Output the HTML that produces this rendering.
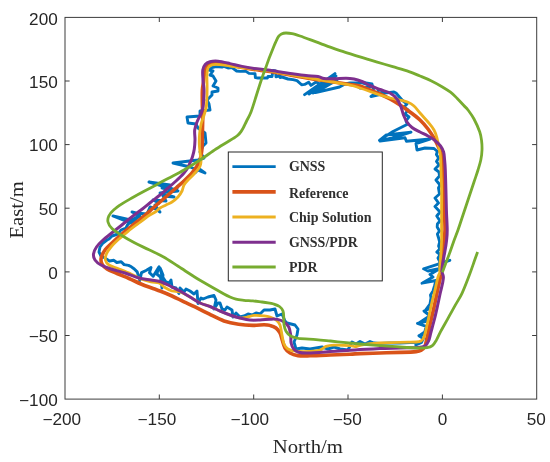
<!DOCTYPE html>
<html lang="en">
<head>
<meta charset="utf-8">
<title>Trajectory comparison</title>
<style>
html,body{margin:0;padding:0;background:#fff;}
body{width:550px;height:462px;overflow:hidden;}
svg{display:block;}
</style>
</head>
<body>
<svg width="550" height="462" viewBox="0 0 550 462">
<rect width="550" height="462" fill="#fff"/>
<g fill="none" stroke-linejoin="round" stroke-linecap="butt">
<path d="M441.0 271.0L439.5 266.0L440.0 262.0L438.0 258.0L440.2 254.5L436.8 252.0L439.8 249.0L438.6 246.0L439.6 242.0L438.6 238.0L437.4 234.0L439.5 231.0L437.2 227.0L437.4 224.0L440.0 221.0L436.8 216.0L440.0 212.0L435.0 206.5L438.5 203.0L435.0 198.0L439.5 194.0L438.5 188.0L440.0 185.0L436.0 180.0L439.5 176.0L439.0 172.0L435.0 169.0L439.0 165.0L436.5 161.5L438.6 158.0L436.4 154.5L437.4 151.5L434.0 148.5L425.0 148.0L417.0 150.0L416.0 143.5L430.0 139.0L406.4 141.3L405.0 137.8L380.0 141.0L392.0 138.0L411.0 132.2L386.0 135.0L379.5 140.3L393.0 131.5L407.5 124.3L406.0 121.0L409.0 117.0L405.0 114.0L408.0 110.0L404.0 107.0L407.0 104.0L402.0 100.0L396.0 93.0L394.0 92.0L390.0 92.5L384.0 93.0L380.0 89.5L376.0 93.0L371.0 96.5L382.0 94.0L374.0 92.0L372.0 84.0L366.0 83.0L360.0 82.0L372.0 86.0L364.0 88.0L360.0 88.0L354.0 84.0L360.0 83.0L350.0 83.0L345.0 84.0L339.5 87.0L315.5 92.6L337.0 80.0L313.0 93.0L336.0 76.0L309.0 94.0L335.0 73.6L304.6 94.6L320.0 84.0L316.0 82.0L311.0 85.4L308.6 82.2L304.6 84.4L301.6 84.8L297.0 80.6L293.0 79.6L288.0 79.0L282.0 77.0L280.0 77.5L280.0 75.5L276.0 76.8L275.6 71.0L273.0 70.5L272.0 76.5L268.0 76.5L267.4 78.0L258.0 78.0L255.4 77.6L255.0 73.6L249.0 73.4L246.0 71.4L240.0 71.4L236.6 71.0L232.0 67.6L228.0 68.0L224.0 66.4L222.0 67.0L216.0 66.6L212.0 67.5L209.0 70.0L213.0 71.0L210.0 75.0L213.0 76.0L216.0 81.0L213.0 86.0L218.0 88.0L218.0 91.0L212.0 92.0L212.0 95.0L207.0 100.0L209.0 104.0L210.0 110.0L200.0 111.0L200.0 116.0L187.0 117.0L188.0 123.0L196.0 124.0L198.0 128.0L205.0 133.0L206.0 143.0L203.0 146.0L200.0 152.0L204.0 158.0L198.0 160.0L173.0 163.0L190.0 167.0L205.0 173.0L198.0 168.0L196.0 172.0L190.0 176.0L178.0 186.0L176.0 190.0L149.0 182.0L170.0 185.0L162.0 188.0L178.0 191.0L160.0 193.0L174.0 197.0L163.0 196.0L166.0 201.0L153.0 200.0L159.0 203.0L155.0 205.0L160.0 212.0L156.0 209.0L150.0 207.0L147.0 214.0L136.0 213.0L132.0 212.0L140.0 216.0L134.0 220.0L137.0 217.0L128.0 222.0L113.0 216.0L135.0 221.0L128.0 224.0L126.0 228.0L121.0 230.0L118.0 234.0L112.0 236.0L109.0 239.0L107.0 240.0L103.0 243.0L100.0 247.0L99.0 252.0L101.0 256.0L105.0 258.0L106.0 258.8L109.5 261.0L113.9 260.3L116.8 262.5L121.2 261.7L124.1 264.6L128.5 265.4L131.4 266.8L134.3 269.0L137.2 271.9L139.8 280.5L141.5 272.6L146.0 270.5L151.0 267.5L149.5 272.6L153.2 276.3L159.0 266.8L156.8 274.0L160.5 277.0L162.0 288.0L163.0 275.0L161.0 270.0L160.0 268.0L162.0 276.0L166.0 282.0L169.0 283.0L171.0 280.0L172.0 287.0L176.0 288.0L179.0 293.5L180.0 288.0L184.0 292.0L186.0 289.0L190.0 291.0L194.0 294.0L197.0 291.0L198.0 303.5L201.0 298.0L203.0 299.0L208.0 297.0L214.0 295.5L216.0 300.0L214.0 309.0L218.0 303.0L220.0 303.0L222.0 309.0L225.0 310.0L227.0 307.0L232.0 310.0L233.0 317.0L236.0 313.0L240.0 317.0L244.0 316.0L248.0 314.0L252.0 315.0L256.0 313.0L260.0 314.0L264.0 310.0L270.0 310.0L275.0 309.0L277.0 316.0L282.0 314.0L285.0 321.0L287.0 323.0L295.0 325.0L298.0 329.0L297.0 335.0L294.0 342.0L296.0 349.0L302.0 348.0L310.0 349.0L316.0 348.0L322.0 347.0L328.0 349.0L334.0 347.0L340.0 349.0L348.0 350.0L352.0 342.0L356.0 344.0L360.0 341.5L365.0 344.0L370.0 341.5L374.0 343.0L380.0 343.4L390.0 343.0L400.0 343.0L410.0 342.6L418.0 342.6L415.8 345.0L421.5 342.4L423.3 338.6L418.9 335.7L424.4 334.0L420.0 335.2L424.7 332.0L426.2 326.3L417.5 323.4L427.4 321.0L419.0 323.0L428.4 316.8L429.0 315.0L424.0 311.0L429.6 308.6L425.4 310.4L430.0 304.0L431.0 298.0L430.5 295.0L433.0 291.0L434.5 286.0L436.0 280.5L422.0 283.2L433.0 277.0L430.0 274.5L440.0 268.5L428.0 271.0L423.6 268.8L449.8 260.3L439.0 263.5L441.0 271.0" stroke="#0072BD" stroke-width="2.9" stroke-linejoin="round"/>
<path d="M441.5 273.0C441.6 269.5 442.0 257.5 442.4 252.0C442.8 246.5 443.6 243.7 444.0 240.0C444.4 236.3 444.9 235.0 445.0 230.0C445.1 225.0 444.6 216.7 444.4 210.0C444.2 203.3 444.1 196.7 444.0 190.0C443.9 183.3 443.9 175.0 443.6 170.0C443.3 165.0 442.8 162.8 442.4 160.0C442.0 157.2 441.7 155.3 441.0 153.0C440.3 150.7 439.2 148.5 438.0 146.0C436.8 143.5 435.7 140.8 434.0 138.0C432.3 135.2 430.3 132.0 428.0 129.0C425.7 126.0 423.0 122.8 420.0 120.0C417.0 117.2 413.3 114.5 410.0 112.0C406.7 109.5 403.3 107.2 400.0 105.0C396.7 102.8 393.3 100.8 390.0 99.0C386.7 97.2 383.3 95.5 380.0 94.0C376.7 92.5 373.3 91.3 370.0 90.0C366.7 88.7 363.3 86.9 360.0 86.0C356.7 85.1 355.0 85.2 350.0 84.5C345.0 83.8 336.7 82.5 330.0 81.5C323.3 80.5 316.7 79.6 310.0 78.5C303.3 77.4 296.7 76.2 290.0 75.0C283.3 73.8 276.0 72.4 270.0 71.5C264.0 70.6 258.7 70.2 254.0 69.5C249.3 68.8 246.0 68.2 242.0 67.5C238.0 66.8 234.0 65.8 230.0 65.0C226.0 64.2 221.2 63.2 218.0 63.0C214.8 62.8 212.9 63.1 211.0 63.8C209.1 64.5 207.6 65.5 206.5 67.0C205.4 68.5 205.0 70.5 204.5 73.0C204.0 75.5 203.8 79.2 203.5 82.0C203.2 84.8 202.6 86.0 202.4 90.0C202.2 94.0 202.3 101.8 202.4 106.0C202.5 110.2 202.8 111.8 202.8 115.0C202.8 118.2 202.7 121.8 202.6 125.0C202.5 128.2 202.5 130.8 202.4 134.0C202.3 137.2 202.3 141.0 202.2 144.0C202.1 147.0 202.0 149.3 201.6 152.0C201.2 154.7 200.7 157.8 200.0 160.0C199.3 162.2 198.7 163.2 197.4 165.4C196.1 167.6 194.2 170.4 192.0 173.0C189.8 175.6 186.7 178.5 184.0 181.0C181.3 183.5 178.7 185.7 176.0 188.0C173.3 190.3 170.7 192.7 168.0 195.0C165.3 197.3 162.7 199.7 160.0 202.0C157.3 204.3 154.8 206.5 152.0 209.0C149.2 211.5 146.2 214.3 143.0 217.0C139.8 219.7 136.3 222.3 133.0 225.0C129.7 227.7 126.3 230.2 123.0 233.0C119.7 235.8 116.0 239.2 113.0 242.0C110.0 244.8 107.0 247.3 105.0 250.0C103.0 252.7 101.7 255.7 101.2 258.0C100.7 260.3 101.0 262.2 102.0 264.0C103.0 265.8 104.5 267.4 107.0 269.0C109.5 270.6 113.3 271.9 117.0 273.5C120.7 275.1 125.0 276.8 129.0 278.5C133.0 280.2 137.0 282.3 141.0 284.0C145.0 285.7 149.8 287.3 153.0 288.5C156.2 289.7 156.8 289.8 160.0 291.0C163.2 292.2 168.0 294.2 172.0 296.0C176.0 297.8 180.2 300.0 184.0 301.8C187.8 303.6 190.8 304.8 195.0 306.9C199.2 309.0 204.7 311.8 209.5 314.2C214.3 316.6 219.2 319.3 224.0 321.0C228.8 322.7 233.8 323.6 238.6 324.3C243.4 325.0 248.8 325.3 253.0 325.4C257.2 325.5 261.2 324.7 264.0 324.7C266.8 324.7 268.0 324.8 270.0 325.4C272.0 325.9 274.3 326.7 276.0 328.0C277.7 329.3 279.0 331.0 280.0 333.0C281.0 335.0 281.4 337.5 282.2 340.0C283.0 342.5 283.7 345.8 285.0 348.0C286.3 350.2 287.8 351.7 290.0 353.0C292.2 354.3 294.7 355.1 298.0 355.6C301.3 356.1 304.7 355.9 310.0 355.8C315.3 355.7 323.3 355.3 330.0 355.0C336.7 354.7 345.0 354.4 350.0 354.2C355.0 354.0 355.0 353.8 360.0 353.6C365.0 353.4 373.3 353.2 380.0 353.0C386.7 352.8 394.0 352.6 400.0 352.4C406.0 352.2 412.4 352.0 416.0 351.6C419.6 351.2 420.0 350.9 421.5 350.0C423.0 349.1 424.1 348.0 425.0 346.0C425.9 344.0 426.2 341.3 427.0 338.0C427.8 334.7 428.5 330.7 429.6 326.0C430.7 321.3 432.1 315.7 433.4 310.0C434.7 304.3 436.1 297.2 437.2 292.0C438.3 286.8 439.3 282.2 440.0 279.0C440.7 275.8 441.2 274.0 441.5 273.0" stroke="#D95319" stroke-width="3.6"/>
<path d="M439.8 273.0C439.8 271.8 439.6 269.5 439.8 266.0C440.0 262.5 440.7 256.3 441.0 252.0C441.3 247.7 441.5 243.7 441.6 240.0C441.7 236.3 441.6 235.0 441.6 230.0C441.6 225.0 441.6 216.7 441.6 210.0C441.6 203.3 441.7 196.7 441.6 190.0C441.5 183.3 441.2 175.7 441.0 170.0C440.8 164.3 440.7 159.7 440.4 156.0C440.1 152.3 439.6 151.0 439.0 148.0C438.4 145.0 437.8 141.0 437.0 138.0C436.2 135.0 435.5 132.7 434.0 130.0C432.5 127.3 430.3 124.8 428.0 122.0C425.7 119.2 422.3 115.7 420.0 113.0C417.7 110.3 416.0 107.8 414.0 106.0C412.0 104.2 410.3 103.2 408.0 102.2C405.7 101.2 403.0 100.7 400.0 100.0C397.0 99.3 393.3 98.8 390.0 98.0C386.7 97.2 383.3 96.1 380.0 95.0C376.7 93.9 373.3 92.7 370.0 91.5C366.7 90.3 363.3 89.1 360.0 88.0C356.7 86.9 355.0 86.1 350.0 85.0C345.0 83.9 336.7 82.7 330.0 81.5C323.3 80.3 316.7 79.2 310.0 78.0C303.3 76.8 296.7 75.7 290.0 74.5C283.3 73.3 276.0 71.9 270.0 71.0C264.0 70.1 258.7 69.6 254.0 69.0C249.3 68.4 246.0 68.0 242.0 67.5C238.0 67.0 233.7 66.5 230.0 66.0C226.3 65.5 223.0 64.8 220.0 64.6C217.0 64.4 214.0 64.2 212.0 64.8C210.0 65.4 208.8 66.3 208.0 68.0C207.2 69.7 207.1 71.3 206.9 75.0C206.8 78.7 207.2 84.8 207.1 90.0C207.0 95.2 206.9 101.8 206.4 106.0C205.9 110.2 204.9 112.3 204.0 115.4C203.1 118.5 201.7 121.5 201.0 124.5C200.3 127.5 199.9 130.3 199.6 133.6C199.3 136.8 199.2 140.8 199.3 144.0C199.4 147.2 199.8 150.3 200.1 153.0C200.4 155.7 200.9 158.1 201.0 160.0C201.1 161.9 200.9 163.2 200.6 164.5C200.3 165.8 200.1 166.4 199.0 168.0C197.9 169.6 195.8 172.0 194.0 174.0C192.2 176.0 189.7 178.2 188.0 180.0C186.3 181.8 185.0 183.2 184.0 185.0C183.0 186.8 183.0 189.0 182.0 191.0C181.0 193.0 179.7 195.2 178.0 197.0C176.3 198.8 174.0 200.7 172.0 202.0C170.0 203.3 168.0 204.0 166.0 205.0C164.0 206.0 161.7 206.9 160.0 208.0C158.3 209.1 157.8 210.2 156.0 211.5C154.2 212.8 151.8 213.6 149.0 215.5C146.2 217.4 142.3 220.5 139.0 223.0C135.7 225.5 132.3 227.8 129.0 230.5C125.7 233.2 122.0 236.2 119.0 239.0C116.0 241.8 113.1 244.5 111.0 247.0C108.9 249.5 107.3 251.8 106.4 254.0C105.5 256.2 105.0 258.2 105.4 260.0C105.8 261.8 106.7 263.5 109.0 265.0C111.3 266.5 115.3 267.5 119.0 269.0C122.7 270.5 127.3 272.3 131.0 274.0C134.7 275.7 137.7 277.7 141.0 279.0C144.3 280.3 148.0 281.3 151.0 282.0C154.0 282.7 156.7 282.1 159.0 283.0C161.3 283.9 162.8 286.2 165.0 287.5C167.2 288.8 169.5 290.2 172.0 291.0C174.5 291.8 177.0 291.0 180.0 292.0C183.0 293.0 186.7 295.2 190.0 297.0C193.3 298.8 196.7 301.4 200.0 303.0C203.3 304.6 206.7 305.2 210.0 306.5C213.3 307.8 216.7 309.6 220.0 311.0C223.3 312.4 226.7 313.8 230.0 315.0C233.3 316.2 237.3 317.6 240.0 318.0C242.7 318.4 243.7 317.8 246.0 317.4C248.3 317.0 251.0 315.7 254.0 315.4C257.0 315.1 261.3 315.5 264.0 315.8C266.7 316.1 268.0 316.3 270.0 317.0C272.0 317.7 274.3 318.7 276.0 320.0C277.7 321.3 279.0 322.5 280.0 325.0C281.0 327.5 281.3 331.8 282.0 335.0C282.7 338.2 283.0 341.7 284.0 344.0C285.0 346.3 286.0 347.8 288.0 349.0C290.0 350.2 292.3 350.8 296.0 351.2C299.7 351.6 306.0 351.6 310.0 351.4C314.0 351.2 317.3 350.8 320.0 350.0C322.7 349.2 323.7 347.2 326.0 346.4C328.3 345.6 330.0 345.3 334.0 345.2C338.0 345.1 346.5 345.4 350.0 345.6C353.5 345.8 353.3 346.6 355.0 346.6C356.7 346.6 357.5 345.9 360.0 345.4C362.5 344.9 366.7 344.0 370.0 343.6C373.3 343.2 375.0 343.2 380.0 343.0C385.0 342.8 394.0 342.6 400.0 342.4C406.0 342.2 412.5 342.2 416.0 342.0C419.5 341.8 419.7 341.8 421.0 341.0C422.3 340.2 423.1 339.2 424.0 337.0C424.9 334.8 425.6 331.5 426.4 328.0C427.2 324.5 428.1 320.3 429.0 316.0C429.9 311.7 431.0 306.3 432.0 302.0C433.0 297.7 434.0 294.2 435.0 290.0C436.0 285.8 437.2 279.8 438.0 277.0C438.8 274.2 439.5 273.7 439.8 273.0" stroke="#EDB120" stroke-width="2.8"/>
<path d="M441.8 272.0C441.9 270.7 442.1 267.3 442.6 264.0C443.1 260.7 444.1 256.0 444.8 252.0C445.5 248.0 446.2 243.7 446.6 240.0C447.0 236.3 447.2 235.0 447.2 230.0C447.2 225.0 446.6 216.7 446.4 210.0C446.2 203.3 446.1 196.7 445.9 190.0C445.7 183.3 445.5 175.0 445.3 170.0C445.1 165.0 444.9 163.0 444.6 160.0C444.3 157.0 444.3 154.3 443.6 152.0C442.9 149.7 441.9 147.9 440.5 146.0C439.1 144.1 437.1 142.2 435.0 140.5C432.9 138.8 430.5 137.4 428.0 136.0C425.5 134.6 422.7 133.4 420.0 132.0C417.3 130.6 414.2 129.2 412.0 127.5C409.8 125.8 408.4 124.1 407.0 122.0C405.6 119.9 404.5 117.5 403.5 115.0C402.5 112.5 402.1 109.7 401.0 107.0C399.9 104.3 398.8 101.3 397.0 99.0C395.2 96.7 392.8 94.6 390.0 93.0C387.2 91.4 383.3 90.8 380.0 89.5C376.7 88.2 373.0 86.8 370.0 85.5C367.0 84.2 364.7 82.6 362.0 81.5C359.3 80.4 356.7 79.5 354.0 79.0C351.3 78.5 349.3 78.2 346.0 78.2C342.7 78.2 337.7 78.7 334.0 78.8C330.3 78.9 326.7 79.0 324.0 78.6C321.3 78.2 321.0 77.1 318.0 76.6C315.0 76.1 310.0 76.0 306.0 75.6C302.0 75.2 298.0 74.6 294.0 74.0C290.0 73.4 286.3 72.9 282.0 72.2C277.7 71.5 272.7 70.6 268.0 70.0C263.3 69.4 258.3 69.0 254.0 68.4C249.7 67.8 246.0 67.2 242.0 66.4C238.0 65.6 234.0 64.5 230.0 63.6C226.0 62.7 221.3 61.5 218.0 61.2C214.7 60.9 212.1 61.2 210.0 61.8C207.9 62.4 206.4 63.2 205.2 64.6C204.0 66.0 203.2 67.4 202.8 70.0C202.4 72.6 202.8 76.7 203.0 80.0C203.2 83.3 203.9 86.7 204.0 90.0C204.1 93.3 203.7 97.3 203.6 100.0C203.5 102.7 203.6 103.9 203.2 106.0C202.8 108.1 202.4 110.2 201.4 112.8C200.4 115.4 198.3 118.6 197.2 121.5C196.1 124.4 195.1 126.9 194.7 130.0C194.3 133.1 195.1 136.8 195.0 140.0C194.9 143.2 194.7 146.2 194.3 149.0C193.9 151.8 193.1 154.8 192.4 157.0C191.7 159.2 191.0 160.7 190.2 162.5C189.4 164.3 188.6 166.2 187.6 168.0C186.6 169.8 185.9 170.8 184.0 173.0C182.1 175.2 178.7 178.5 176.0 181.0C173.3 183.5 170.7 185.7 168.0 188.0C165.3 190.3 162.8 192.7 160.0 195.0C157.2 197.3 153.8 199.8 151.0 202.0C148.2 204.2 146.0 206.2 143.0 208.5C140.0 210.8 136.3 213.4 133.0 216.0C129.7 218.6 126.3 221.3 123.0 224.0C119.7 226.7 116.3 229.3 113.0 232.0C109.7 234.7 105.8 237.5 103.0 240.0C100.2 242.5 98.1 244.7 96.5 247.0C94.9 249.3 93.8 251.8 93.5 254.0C93.2 256.2 93.8 258.2 95.0 260.0C96.2 261.8 98.3 263.5 101.0 265.0C103.7 266.5 107.0 267.7 111.0 269.0C115.0 270.3 120.3 271.5 125.0 273.0C129.7 274.5 134.7 276.8 139.0 278.0C143.3 279.2 147.5 279.4 151.0 280.0C154.5 280.6 156.8 280.5 160.0 281.5C163.2 282.5 166.7 284.4 170.0 286.0C173.3 287.6 176.7 289.2 180.0 291.0C183.3 292.8 186.7 295.0 190.0 297.0C193.3 299.0 196.7 301.4 200.0 303.0C203.3 304.6 206.7 305.2 210.0 306.5C213.3 307.8 216.7 309.6 220.0 311.0C223.3 312.4 226.7 313.8 230.0 315.0C233.3 316.2 236.7 317.2 240.0 318.0C243.3 318.8 246.7 319.7 250.0 320.0C253.3 320.3 256.7 320.1 260.0 320.0C263.3 319.9 267.1 319.3 270.0 319.2C272.9 319.1 275.1 318.9 277.5 319.4C279.9 319.9 282.3 320.7 284.2 322.0C286.1 323.3 287.7 324.8 288.8 327.0C289.9 329.2 290.3 332.3 290.7 335.0C291.1 337.7 290.6 340.7 291.1 343.0C291.6 345.3 292.4 347.5 293.7 349.0C294.9 350.5 296.2 351.5 298.6 352.2C301.0 352.9 302.8 353.1 308.0 353.0C313.2 352.9 323.0 352.1 330.0 351.6C337.0 351.1 345.0 350.5 350.0 350.2C355.0 349.9 355.0 349.9 360.0 349.6C365.0 349.3 373.3 348.9 380.0 348.6C386.7 348.3 393.7 348.2 400.0 348.0C406.3 347.8 413.8 347.9 418.0 347.6C422.2 347.3 423.2 347.1 425.0 346.0C426.8 344.9 427.6 343.3 428.6 341.0C429.6 338.7 430.0 335.7 431.0 332.0C432.0 328.3 433.4 323.3 434.5 319.0C435.6 314.7 436.5 310.5 437.5 306.0C438.5 301.5 439.6 295.8 440.5 292.0C441.4 288.2 442.1 285.5 442.6 283.0C443.1 280.5 443.5 278.8 443.4 277.0C443.3 275.2 442.1 272.8 441.8 272.0" stroke="#7E2F8E" stroke-width="3.0"/>
<path d="M442.4 272.3C442.9 270.9 444.2 267.4 445.5 264.0C446.8 260.6 448.7 255.7 450.0 252.0C451.3 248.3 452.2 245.7 453.5 242.0C454.8 238.3 456.6 234.0 458.0 230.0C459.4 226.0 460.7 222.0 462.0 218.0C463.3 214.0 464.7 210.0 466.0 206.0C467.3 202.0 468.7 198.0 470.0 194.0C471.3 190.0 472.7 186.0 474.0 182.0C475.3 178.0 476.9 173.7 478.0 170.0C479.1 166.3 480.1 163.3 480.8 160.0C481.5 156.7 481.9 153.2 482.0 150.0C482.1 146.8 482.0 144.1 481.6 141.0C481.2 137.9 481.0 135.4 479.7 131.7C478.4 128.0 475.9 122.6 474.0 119.0C472.1 115.4 469.7 112.3 468.0 110.0C466.3 107.7 465.4 107.3 463.6 105.3C461.8 103.3 459.2 100.4 457.0 98.2C454.8 96.0 453.0 94.1 450.5 92.2C448.0 90.3 445.2 88.6 442.0 86.7C438.8 84.8 434.7 82.5 431.0 80.7C427.3 78.9 423.7 77.5 420.0 76.0C416.3 74.5 413.6 73.1 409.0 71.6C404.4 70.0 398.1 68.3 392.7 66.7C387.3 65.1 381.8 63.4 376.4 61.8C370.9 60.2 366.1 58.8 360.0 56.9C353.9 55.0 345.7 52.5 340.0 50.6C334.3 48.7 331.0 47.4 326.0 45.6C321.0 43.8 314.3 41.2 310.0 39.6C305.7 38.0 303.0 37.0 300.0 36.0C297.0 35.0 294.3 34.1 292.0 33.6C289.7 33.1 287.8 33.0 286.0 33.0C284.2 33.0 282.7 33.3 281.5 33.9C280.3 34.5 279.5 35.2 278.6 36.4C277.7 37.6 277.0 39.2 276.2 41.0C275.4 42.8 274.6 44.5 273.6 47.0C272.6 49.5 271.3 52.7 270.0 56.0C268.7 59.3 267.3 63.3 266.0 67.0C264.7 70.7 263.6 73.3 262.0 78.0C260.4 82.7 258.3 89.3 256.5 95.0C254.7 100.7 252.7 107.7 251.0 112.0C249.3 116.3 247.9 118.4 246.6 121.0C245.3 123.6 244.3 125.8 243.4 127.6C242.5 129.4 241.9 130.3 241.0 131.6C240.1 132.9 239.0 134.2 237.8 135.3C236.6 136.4 235.5 137.1 234.0 138.0C232.5 138.9 232.0 139.2 229.0 141.0C226.0 142.8 220.8 145.8 216.0 149.0C211.2 152.2 205.3 156.5 200.0 160.0C194.7 163.5 189.3 166.9 184.0 170.0C178.7 173.1 172.8 176.0 168.0 178.6C163.2 181.2 159.0 183.4 155.0 185.5C151.0 187.6 147.7 189.2 144.1 191.2C140.5 193.1 136.8 195.1 133.2 197.2C129.6 199.3 125.6 201.5 122.3 203.6C119.0 205.7 115.8 207.9 113.6 210.0C111.3 212.1 109.7 214.0 108.8 216.0C107.9 218.0 107.5 219.9 108.0 222.0C108.5 224.1 109.8 226.4 112.0 228.6C114.2 230.8 117.2 232.6 121.0 235.0C124.8 237.4 129.8 240.3 134.5 242.8C139.2 245.3 144.2 247.4 149.0 249.8C153.8 252.2 158.7 254.2 163.6 257.0C168.5 259.8 173.3 263.2 178.2 266.3C183.0 269.4 189.1 273.5 192.7 275.8C196.3 278.1 197.2 278.7 200.0 280.3C202.8 281.9 206.7 284.1 209.5 285.7C212.3 287.3 214.6 288.6 217.0 290.0C219.4 291.4 221.8 292.8 224.0 294.0C226.2 295.2 228.0 296.1 230.0 297.0C232.0 297.9 233.7 298.6 236.0 299.2C238.3 299.8 241.2 300.0 244.0 300.3C246.8 300.6 250.0 300.6 253.0 300.9C256.0 301.2 259.5 301.7 262.0 302.0C264.5 302.3 266.1 302.5 268.0 302.8C269.9 303.1 271.8 303.4 273.7 304.0C275.6 304.6 277.9 305.3 279.5 306.5C281.1 307.7 282.3 309.1 283.0 311.0C283.7 312.9 283.6 315.8 283.8 318.0C284.0 320.2 283.6 322.3 284.0 324.5C284.4 326.7 284.8 329.2 286.0 331.2C287.2 333.2 288.9 335.1 291.0 336.3C293.1 337.5 294.3 337.8 298.5 338.4C302.7 338.9 310.7 339.2 316.0 339.6C321.3 340.0 325.5 340.5 330.5 341.0C335.5 341.5 341.1 342.2 346.0 342.7C350.9 343.2 354.3 343.5 360.0 344.0C365.7 344.5 373.3 345.1 380.0 345.6C386.7 346.1 393.3 346.6 400.0 347.0C406.7 347.4 415.5 347.9 420.0 348.0C424.5 348.1 424.9 348.1 427.0 347.7C429.1 347.3 430.8 346.9 432.4 345.6C434.0 344.3 435.0 342.5 436.4 340.1C437.8 337.7 438.8 335.0 440.7 331.4C442.6 327.8 445.6 322.7 448.0 318.3C450.4 313.9 453.0 309.4 455.3 305.2C457.6 301.0 459.7 298.2 462.0 293.3C464.3 288.4 467.0 281.2 469.0 276.0C471.0 270.8 472.6 266.0 474.0 262.0C475.4 258.0 477.0 253.7 477.6 252.0" stroke="#77AC30" stroke-width="2.8"/>
</g>
<g stroke="#3c3c3c" stroke-width="1" fill="none">
<rect x="65.0" y="17.4" width="471.7" height="381.7"/>
<path d="M159.3 399.1v-4.6M159.3 17.4v4.6"/>
<path d="M253.7 399.1v-4.6M253.7 17.4v4.6"/>
<path d="M348.0 399.1v-4.6M348.0 17.4v4.6"/>
<path d="M442.4 399.1v-4.6M442.4 17.4v4.6"/>
<path d="M65.0 335.5h4.6M536.7 335.5h-4.6"/>
<path d="M65.0 271.9h4.6M536.7 271.9h-4.6"/>
<path d="M65.0 208.2h4.6M536.7 208.2h-4.6"/>
<path d="M65.0 144.6h4.6M536.7 144.6h-4.6"/>
<path d="M65.0 81.0h4.6M536.7 81.0h-4.6"/>
</g>
<g font-family="'Liberation Sans', Arial, sans-serif" font-size="15.6" fill="#262626">
<text transform="translate(57.7 405.8) scale(1.100 1)" text-anchor="end">−100</text>
<text transform="translate(57.7 342.2) scale(1.100 1)" text-anchor="end">−50</text>
<text transform="translate(57.7 278.6) scale(1.100 1)" text-anchor="end">0</text>
<text transform="translate(57.7 214.9) scale(1.100 1)" text-anchor="end">50</text>
<text transform="translate(57.7 151.3) scale(1.100 1)" text-anchor="end">100</text>
<text transform="translate(57.7 87.7) scale(1.100 1)" text-anchor="end">150</text>
<text transform="translate(57.7 24.9) scale(1.100 1)" text-anchor="end">200</text>
<text transform="translate(61.8 424.6) scale(1.100 1)" text-anchor="middle">−200</text>
<text transform="translate(156.9 424.6) scale(1.100 1)" text-anchor="middle">−150</text>
<text transform="translate(249.8 424.6) scale(1.100 1)" text-anchor="middle">−100</text>
<text transform="translate(347.3 424.6) scale(1.100 1)" text-anchor="middle">−50</text>
<text transform="translate(442.5 424.6) scale(1.100 1)" text-anchor="middle">0</text>
<text transform="translate(536.2 424.6) scale(1.100 1)" text-anchor="middle">50</text>
</g>
<g font-family="'Liberation Serif', 'Times New Roman', serif" font-size="18" fill="#262626">
<text transform="translate(307.8 452.6) scale(1.150 1)" text-anchor="middle">North/m</text>
<text transform="translate(22.7 209.8) rotate(-90) scale(1.150 1)" text-anchor="middle">East/m</text>
</g>
<rect x="228.3" y="152.0" width="154.0" height="128.9" fill="#fff" stroke="#262626" stroke-width="1"/>
<g font-family="'Liberation Serif', 'Times New Roman', serif" font-size="14.8" font-weight="bold" fill="#303030">
<path d="M232.4 166.6H275.7" stroke="#0072BD" stroke-width="2.9" fill="none"/>
<text transform="translate(288.9 171.4) scale(0.945 1)" text-anchor="start">GNSS</text>
<path d="M232.4 191.8H275.7" stroke="#D95319" stroke-width="3.7" fill="none"/>
<text transform="translate(288.9 197.9) scale(0.945 1)" text-anchor="start">Reference</text>
<path d="M232.4 217.0H275.7" stroke="#EDB120" stroke-width="2.8" fill="none"/>
<text transform="translate(288.9 221.5) scale(0.945 1)" text-anchor="start">Chip Solution</text>
<path d="M232.4 242.3H275.7" stroke="#7E2F8E" stroke-width="3.0" fill="none"/>
<text transform="translate(288.9 246.9) scale(0.945 1)" text-anchor="start">GNSS/PDR</text>
<path d="M232.4 267.0H275.7" stroke="#77AC30" stroke-width="2.8" fill="none"/>
<text transform="translate(288.9 272.3) scale(0.945 1)" text-anchor="start">PDR</text>
</g>
</svg>
</body>
</html>
